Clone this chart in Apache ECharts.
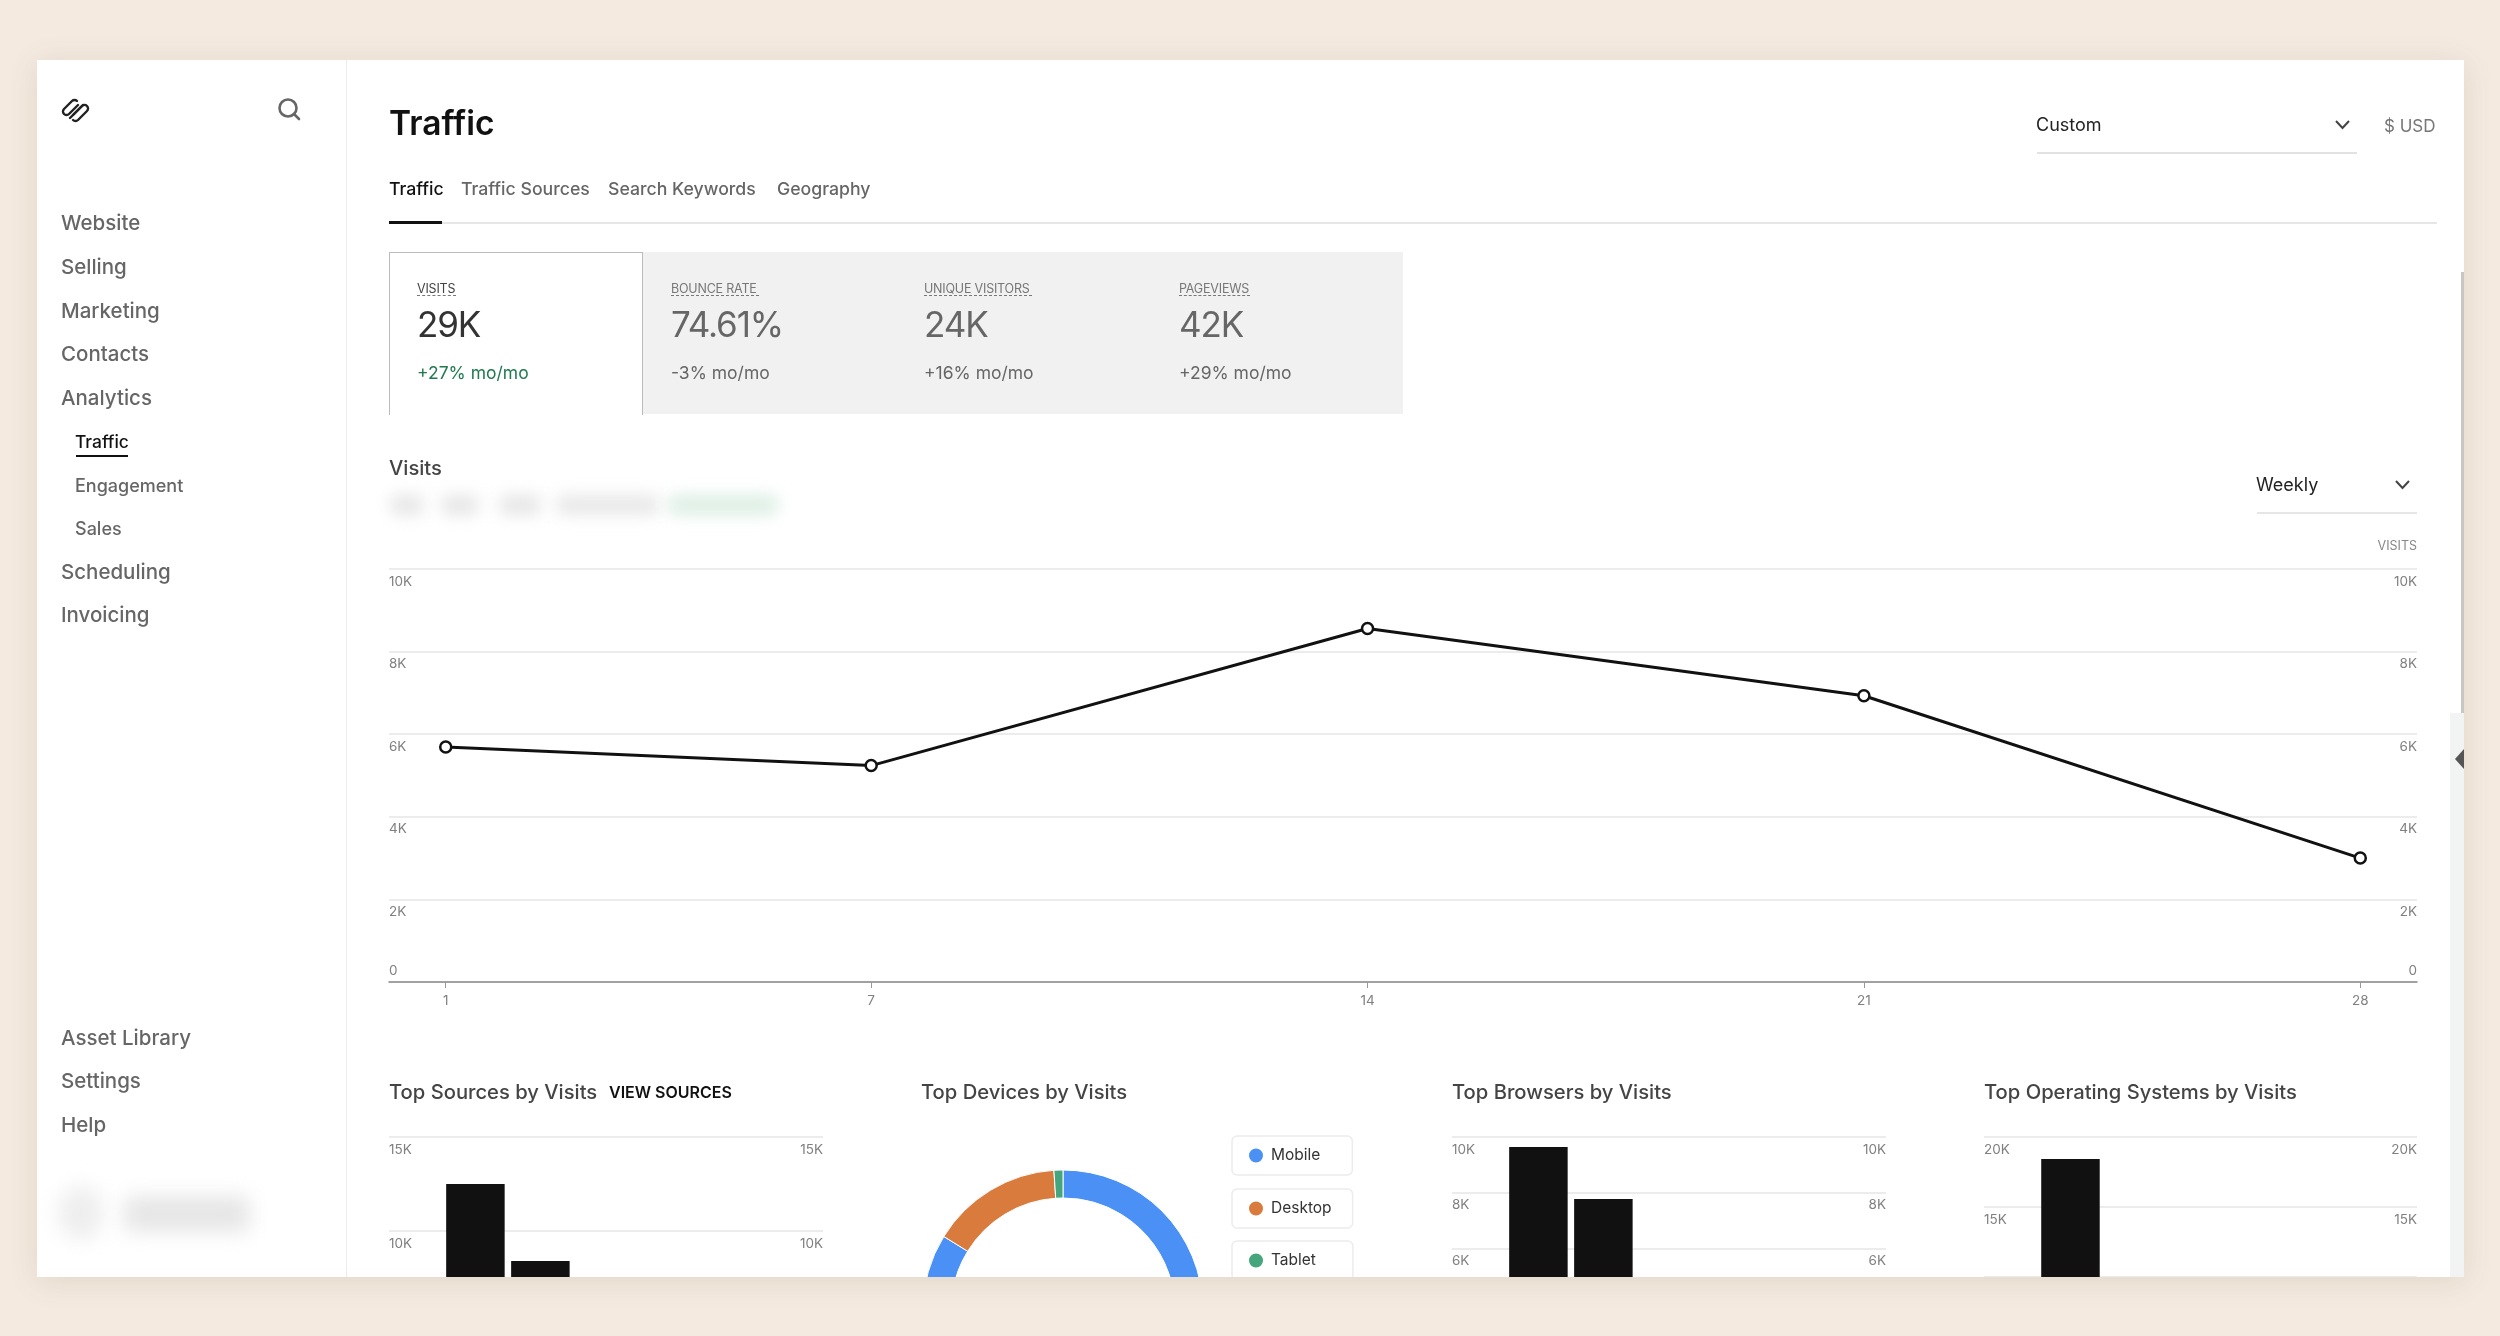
<!DOCTYPE html>
<html><head><meta charset="utf-8"><title>Traffic</title>
<script src="https://cdn.jsdelivr.net/npm/echarts@6/dist/echarts.min.js"></script>
<style>
html,body{margin:0;padding:0;width:2500px;height:1336px;overflow:hidden;background:#f4eae0;font-family:Inter,"Noto Sans",sans-serif}
#card{position:absolute;left:37px;top:60px;width:2427px;height:1217px;background:#fff;overflow:hidden}
#shadow{position:absolute;left:37px;top:60px;width:2427px;height:1217px;box-shadow:0 4px 28px rgba(120,90,60,.14)}
#chart{position:absolute;left:-37px;top:-60px;width:2500px;height:1500px}
#ui{position:absolute;left:0;top:0;width:2500px;height:1336px;pointer-events:none;overflow:hidden}
.t{position:absolute;white-space:nowrap;transform:translateY(-50%);line-height:1.2}
.nav{left:61px;font-size:20.5px;font-weight:500;color:#666}
.sub{left:75px;font-size:18px;font-weight:500;color:#666}
.tab{top:189px;font-size:17.7px;font-weight:500;color:#666}
.kl{top:288px;font-size:12.5px;color:#777;letter-spacing:-.2px}
.kv{top:323.5px;font-size:35px;font-weight:400;color:#666;letter-spacing:-1.1px}
.kd{top:371.5px;font-size:17.5px;color:#666}
.dash{position:absolute;top:295px;height:0;border-top:1.5px dashed #777}
.h{top:1092px;font-size:20.2px;font-weight:500;color:#444}
.r{position:absolute}
.blur{position:absolute;border-radius:8px}
</style></head><body>
<div id="shadow"></div>
<div id="card"><div id="chart"></div></div>
<div id="ui">
<div class="r" style="left:346px;top:60px;width:1px;height:1217px;background:#ececec"></div>
<svg class="r" style="left:61px;top:97px" width="30" height="26" viewBox="0 0 30 26" fill="none" stroke="#222" stroke-width="2.4" stroke-linecap="round">
<path d="M16 4 a3.5 3.5 0 0 0 -5 0 L3 12 a3.5 3.5 0 0 0 5 5 L17 8"/>
<path d="M12 23 a3.5 3.5 0 0 0 5 0 L26 14 a3.5 3.5 0 0 0 -5 -5 L12 18"/>
<path d="M9 21 L22 8"/></svg>
<svg class="r" style="left:276px;top:96px" width="26" height="26" viewBox="0 0 26 26" fill="none" stroke="#666" stroke-width="2.6" stroke-linecap="round"><circle cx="12" cy="12" r="8.5"/><path d="M18 18 L23 23"/></svg>

<div class="t nav" style="top:223px">Website</div>
<div class="t nav" style="top:267px">Selling</div>
<div class="t nav" style="top:311px">Marketing</div>
<div class="t nav" style="top:354px">Contacts</div>
<div class="t nav" style="top:398px">Analytics</div>
<div class="t sub" style="top:442px;color:#111;font-size:17.4px">Traffic</div>
<div class="r" style="left:76px;top:455px;width:52px;height:2px;background:#111"></div>
<div class="t sub" style="top:486px">Engagement</div>
<div class="t sub" style="top:529px">Sales</div>
<div class="t nav" style="top:572px">Scheduling</div>
<div class="t nav" style="top:615px">Invoicing</div>
<div class="t nav" style="top:1038px">Asset Library</div>
<div class="t nav" style="top:1081px">Settings</div>
<div class="t nav" style="top:1125px">Help</div>
<div class="blur" style="left:58px;top:1186px;width:46px;height:54px;background:#eee;border-radius:50%;filter:blur(10px)"></div>
<div class="blur" style="left:124px;top:1196px;width:126px;height:36px;background:#e6e6e6;filter:blur(10px)"></div>

<div class="t" style="left:389px;top:122.5px;font-size:33.5px;font-weight:600;color:#111">Traffic</div>
<div class="t tab" style="left:389px;color:#111">Traffic</div>
<div class="t tab" style="left:461px">Traffic Sources</div>
<div class="t tab" style="left:608px">Search Keywords</div>
<div class="t tab" style="left:777px">Geography</div>
<div class="r" style="left:389px;top:222px;width:2048px;height:2px;background:#e6e6e6"></div>
<div class="r" style="left:389px;top:221px;width:53px;height:3px;background:#111"></div>
<div class="t" style="left:2036px;top:124.5px;font-size:18px;color:#222">Custom</div>
<svg class="r" style="left:2334px;top:119px" width="17" height="12" fill="none" stroke="#444" stroke-width="2"><path d="M2 2 L8.5 9 L15 2"/></svg>
<div class="r" style="left:2037px;top:152px;width:320px;height:2px;background:#e2e2e2"></div>
<div class="t" style="left:2384px;top:125.5px;font-size:17px;color:#777">$ USD</div>

<div class="r" style="left:389px;top:252px;width:1014px;height:162px;background:#f1f1f1"></div>
<div class="r" style="left:389px;top:252px;width:252px;height:162px;background:#fff;border:1.5px solid #bbb;border-bottom:none"></div>
<div class="t kl" style="left:417px;color:#444">VISITS</div><div class="dash" style="left:417px;width:39px"></div>
<div class="t kv" style="left:417px;color:#333">29K</div>
<div class="t kd" style="left:417px;color:#1f7a4f">+27% mo/mo</div>
<div class="t kl" style="left:671px">BOUNCE RATE</div><div class="dash" style="left:671px;width:88px"></div>
<div class="t kv" style="left:671px">74.61%</div>
<div class="t kd" style="left:671px">-3% mo/mo</div>
<div class="t kl" style="left:924px">UNIQUE VISITORS</div><div class="dash" style="left:924px;width:108px"></div>
<div class="t kv" style="left:924px">24K</div>
<div class="t kd" style="left:924px">+16% mo/mo</div>
<div class="t kl" style="left:1179px">PAGEVIEWS</div><div class="dash" style="left:1179px;width:71px"></div>
<div class="t kv" style="left:1179px">42K</div>
<div class="t kd" style="left:1179px">+29% mo/mo</div>

<div class="t" style="left:389px;top:468px;font-size:20.2px;font-weight:500;color:#444">Visits</div>
<div class="blur" style="left:390px;top:495px;width:34px;height:20px;background:#e6e6e6;filter:blur(8px)"></div>
<div class="blur" style="left:441px;top:495px;width:38px;height:20px;background:#e6e6e6;filter:blur(8px)"></div>
<div class="blur" style="left:499px;top:495px;width:42px;height:20px;background:#e6e6e6;filter:blur(8px)"></div>
<div class="blur" style="left:556px;top:495px;width:104px;height:20px;background:#e8e8e8;filter:blur(8px)"></div>
<div class="blur" style="left:668px;top:495px;width:110px;height:20px;background:#dceee4;filter:blur(8px)"></div>
<div class="t" style="left:2256px;top:484.5px;font-size:18px;color:#222">Weekly</div>
<svg class="r" style="left:2394px;top:479px" width="17" height="12" fill="none" stroke="#444" stroke-width="2"><path d="M2 2 L8.5 9 L15 2"/></svg>
<div class="r" style="left:2257px;top:512px;width:160px;height:2px;background:#e6e6e6"></div>
<div class="t" style="right:83px;top:545px;font-size:12.5px;color:#888">VISITS</div>

<div class="t h" style="left:389px">Top Sources by Visits</div>
<div class="t" style="left:609px;top:1093px;font-size:16px;font-weight:600;color:#111">VIEW SOURCES</div>
<div class="t h" style="left:921px">Top Devices by Visits</div>
<div class="t h" style="left:1452px">Top Browsers by Visits</div>
<div class="t h" style="left:1984px">Top Operating Systems by Visits</div>

<div class="r" style="left:2461px;top:272px;width:3px;height:441px;background:#c9c7c4"></div>
<div class="r" style="left:2450px;top:713px;width:14px;height:564px;background:#f2f3f3"></div>
<svg class="r" style="left:2455px;top:749px" width="9" height="20"><path d="M0 10 L9 0 L9 20 Z" fill="#555"/></svg>
</div>
<script>
// Main line chart
const mainDays = [1, 7, 14, 21, 28];
const mainVisits = [5690, 5240, 8560, 6930, 3000];
const mainTicks = ['0', '2K', '4K', '6K', '8K', '10K'];
// Top sources
const sourceSlots = [1, 2];
const sourceVisits = [12500, 8400];
const sourceTicks = ['0', '5K', '10K', '15K'];
// Top devices
const deviceNames = ['Mobile', 'Desktop', 'Tablet'];
const deviceVisits = [24300, 4400, 300];
const deviceColors = ['#4a90f5', '#d97b3c', '#45a67d'];
// Top browsers
const browserSlots = [1, 2];
const browserVisits = [9640, 7780];
const browserTicks = ['0', '2K', '4K', '6K', '8K', '10K'];
// Top operating systems
const osSlots = [1];
const osVisits = [18430];
const osTicks = ['0', '5K', '10K', '15K', '20K'];

const font = 'Inter';
const grey = '#808080';
const yAxisPair = (gridIndex, max, interval, ticks) => ['left', 'right'].map(position => ({
  type: 'value', gridIndex, position, min: 0, max, interval,
  axisLine: { show: false }, axisTick: { show: false },
  splitLine: { show: position === 'left', lineStyle: { color: '#e6e6e6', width: 1.5 } },
  axisLabel: {
    inside: true, margin: 0, color: grey, fontFamily: font, fontSize: 13.5,
    verticalAlign: 'top', verticalAlignMinLabel: 'bottom', padding: [5.5, 0, 4, 0],
    formatter: v => ticks[Math.round(v / interval)]
  }
}));
const hiddenX = (gridIndex, min, max) => ({ type: 'value', gridIndex, min, max, show: false });
const bars = (axisIndex, slots, values) => ({
  type: 'bar', xAxisIndex: axisIndex, yAxisIndex: axisIndex * 2, barWidth: 58.5, silent: true,
  itemStyle: { color: '#111' },
  data: slots.map((s, i) => [s, values[i]])
});
const legendBox = (name, top, rightPad) => ({
  data: [name], left: 1232, top, orient: 'horizontal', selectedMode: false,
  padding: [10.5, rightPad, 10.5, 15], itemWidth: 16, itemHeight: 16, icon: 'circle',
  backgroundColor: '#fff', borderColor: '#ececec', borderWidth: 1.5, borderRadius: 5,
  textStyle: { fontFamily: font, fontSize: 15.5, color: '#333', padding: [0, 0, 0, 2] }
});

const chart = echarts.init(document.getElementById('chart'), null, { renderer: 'canvas' });
chart.setOption({
  animation: false,
  backgroundColor: 'transparent',
  grid: [
    { left: 389, width: 2028, top: 569, height: 413 },
    { left: 389, width: 434, top: 1137, height: 282 },
    { left: 1452, width: 434, top: 1137, height: 279 },
    { left: 1984, width: 433, top: 1137, height: 280 }
  ],
  xAxis: [
    { type: 'value', gridIndex: 0, min: 0.2, max: 28.8, splitLine: { show: false },
      axisLine: { lineStyle: { color: '#888', width: 1.5 } },
      axisTick: { length: 6, lineStyle: { color: '#999' }, customValues: mainDays },
      axisLabel: { color: grey, fontFamily: font, fontSize: 13.5, margin: 12, customValues: mainDays } },
    hiddenX(1, -0.33, 6.35),
    hiddenX(2, -0.33, 6.35),
    hiddenX(3, -0.33, 6.33)
  ],
  yAxis: [
    ...yAxisPair(0, 10000, 2000, mainTicks),
    ...yAxisPair(1, 15000, 5000, sourceTicks),
    ...yAxisPair(2, 10000, 2000, browserTicks),
    ...yAxisPair(3, 20000, 5000, osTicks)
  ],
  legend: [legendBox('Mobile', 1136, 32), legendBox('Desktop', 1189, 21), legendBox('Tablet', 1241, 37)],
  series: [
    { type: 'line', xAxisIndex: 0, yAxisIndex: 0, silent: true,
      symbol: 'circle', symbolSize: 11, showAllSymbol: true,
      lineStyle: { color: '#111', width: 3 },
      itemStyle: { color: '#fff', borderColor: '#111', borderWidth: 2.5 },
      data: mainDays.map((d, i) => [d, mainVisits[i]]) },
    bars(1, sourceSlots, sourceVisits),
    bars(2, browserSlots, browserVisits),
    bars(3, osSlots, osVisits),
    { type: 'pie', center: [1063, 1310], radius: [112, 140], startAngle: 90, clockwise: true,
      silent: true, label: { show: false }, labelLine: { show: false },
      itemStyle: { borderColor: '#fff', borderWidth: 1 },
      data: deviceNames.map((name, i) => ({ name, value: deviceVisits[i], itemStyle: { color: deviceColors[i] } })) }
  ]
});
</script>
</body></html>
